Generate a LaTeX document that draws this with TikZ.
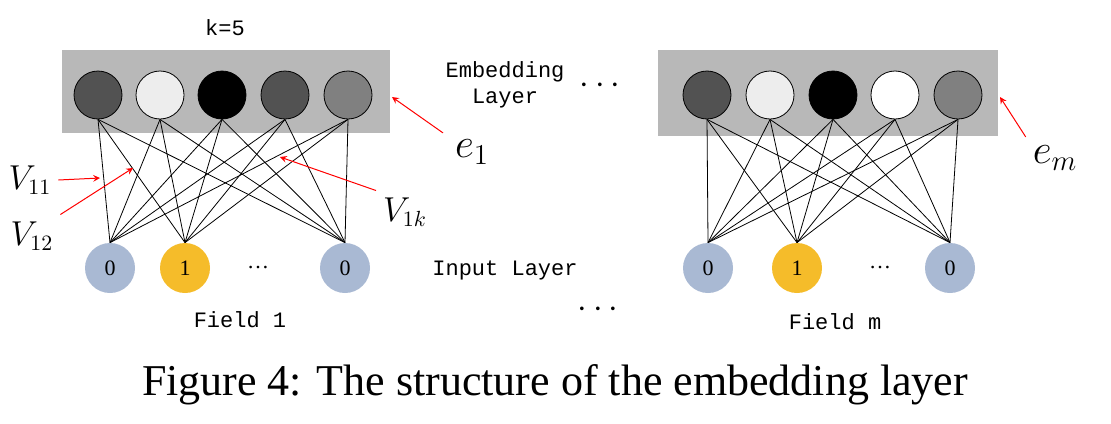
\documentclass[tikz,border=0pt]{standalone}
\usepackage{fontspec}
\setmainfont{Liberation Serif}
\newfontfamily\monof{Liberation Mono}
\begin{document}
\begin{tikzpicture}[x=0.5pt,y=-0.5pt,
  emb/.style={circle,draw=black,line width=0.4pt,minimum size=24pt,inner sep=0pt},
  inp/.style={circle,minimum size=25pt,inner sep=0pt,font=\fontsize{11}{11}\selectfont},
  box/.style={fill=black!28,draw=none},
  mono/.style={font=\monof\fontsize{11}{13}\selectfont},
  red/.style={draw=red,line width=0.5pt},
  conn/.style={line width=0.4pt}]
\useasboundingbox (0,0) rectangle (1111,423);
\definecolor{bg}{HTML}{A9B9D3}\definecolor{yl}{HTML}{F5BC2A}
% boxes
\fill[box] (62,50) rectangle (390,133);
\fill[box] (658,50) rectangle (998,136);
% embedding circles
\foreach \n/\x/\c in {a1/98/black!68,a2/160/black!7,a3/222/black,a4/285/black!68,a5/348/black!50}
  \node[emb,fill=\c] (\n) at (\x,95) {};
\foreach \n/\x/\c in {b1/707/black!68,b2/770/black!7,b3/833/black,b4/895/white,b5/958/black!50}
  \node[emb,fill=\c] (\n) at (\x,95) {};
% inputs
\node[inp,fill=bg] (i1) at (110,268) {0};
\node[inp,fill=yl] (i2) at (185,268) {1};
\node[inp,fill=bg] (i3) at (345,268) {0};
\node[inp,fill=bg] (j1) at (708,268) {0};
\node[inp,fill=yl] (j2) at (797,268) {1};
\node[inp,fill=bg] (j3) at (950,268) {0};
\foreach \i in {i1,i2,i3}\foreach \a in {a1,a2,a3,a4,a5}\draw[conn] (\i.north) -- (\a.south);
\foreach \i in {j1,j2,j3}\foreach \a in {b1,b2,b3,b4,b5}\draw[conn] (\i.north) -- (\a.south);
\node[font=\fontsize{11}{11}\selectfont] (d1) at (258,268) {\dots};
\node[font=\fontsize{11}{11}\selectfont] (d2) at (880,268) {\dots};
% labels
\node[mono] (k) at (225,28) {k=5};
\node[mono,align=center] (el) at (505,85) {Embedding\\Layer};
\node[font=\fontsize{18}{18}\selectfont] (dt1) at (600,86) {$\cdots$};
\node[mono] (il) at (505,270) {Input Layer};
\node[font=\fontsize{18}{18}\selectfont] (dt2) at (598,310) {$\cdots$};
\node[mono] (f1) at (240,320) {Field 1};
\node[mono] (fm) at (835,322) {Field m};
\node[font=\fontsize{22}{24}\selectfont] (cap) at (555,385) {Figure 4: The structure of the embedding layer};
% e labels
\node[font=\fontsize{22}{22}\selectfont] (e1) at (472,152) {$e_1$};
\node[font=\fontsize{22}{22}\selectfont] (em) at (1055,158) {$e_m$};
\coordinate (pe1) at (392,97); \coordinate (pem) at (1000,97);
\draw[red,-stealth] (e1.north west) ++(-5,0) -- (pe1);
\draw[red,-stealth] (em.north west) ++(0,-2) -- (pem);
\node[font=\fontsize{16}{16}\selectfont] (v11) at (30,180) {$V_{11}$};
\node[font=\fontsize{16}{16}\selectfont] (v12) at (32,236) {$V_{12}$};
\node[font=\fontsize{16}{16}\selectfont] (v1k) at (405,212) {$V_{1k}$};
\coordinate (p11) at (100,178); \coordinate (p12) at (133,168); \coordinate (p1k) at (280,157);
\draw[red,-stealth] (v11.east) -- (p11);
\draw[red,-stealth] (v12.north east) -- (p12);
\draw[red,-stealth] (v1k.north west) -- (p1k);
\end{tikzpicture}
\end{document}
